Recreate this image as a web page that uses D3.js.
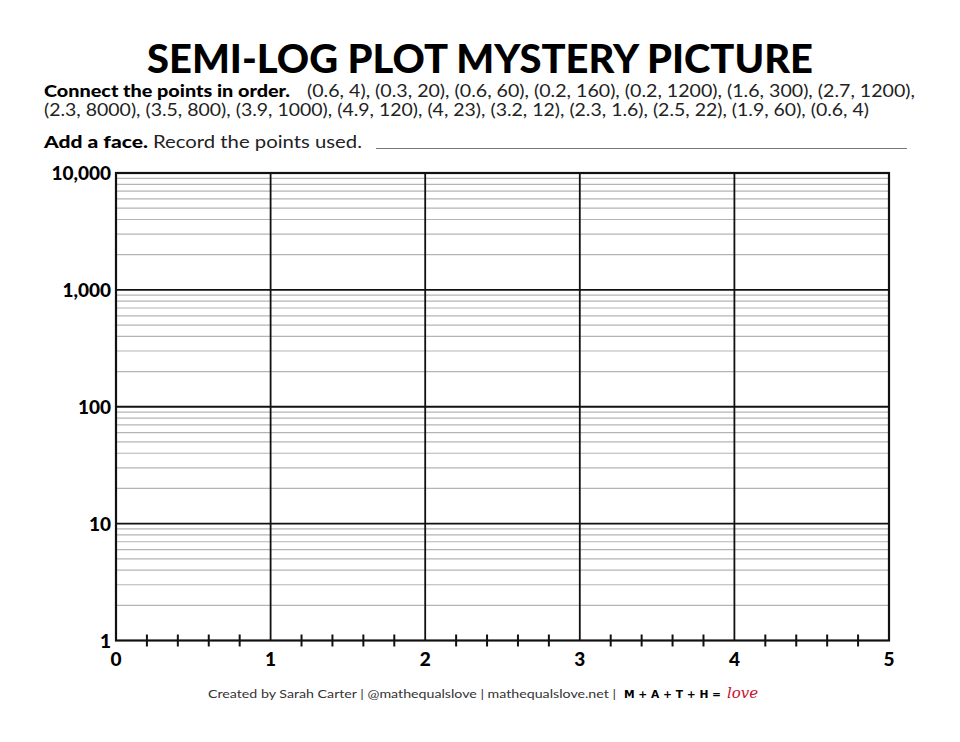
<!DOCTYPE html>
<html>
<head>
<meta charset="utf-8">
<script src="https://cdn.jsdelivr.net/npm/d3@7"></script>
<style>
  body { margin: 0; background: #fff; }
  svg { display: block; }
</style>
</head>
<body>
<div id="chart"></div>
<script>
// data
const titleText = "SEMI-LOG PLOT MYSTERY PICTURE";
const points = [[0.6, 4], [0.3, 20], [0.6, 60], [0.2, 160], [0.2, 1200], [1.6, 300], [2.7, 1200],
                [2.3, 8000], [3.5, 800], [3.9, 1000], [4.9, 120], [4, 23], [3.2, 12], [2.3, 1.6],
                [2.5, 22], [1.9, 60], [0.6, 4]];
const xTicks = [0, 1, 2, 3, 4, 5];
const yTicks = [1, 10, 100, 1000, 10000];
const footerText = "Created by Sarah Carter | @mathequalslove | mathequalslove.net |";

const width = 960, height = 742;
const font = "'Lato', 'Open Sans', 'DejaVu Sans', sans-serif";

const svg = d3.select("#chart").append("svg")
    .attr("width", width).attr("height", height)
    .attr("viewBox", `0 0 ${width} ${height}`);

const x = d3.scaleLinear().domain([0, 5]).range([116, 889]);
const y = d3.scaleLog().domain([1, 10000]).range([640.5, 173]);

// title
svg.append("text")
    .attr("x", 480).attr("y", 73)
    .attr("text-anchor", "middle")
    .attr("textLength", 666).attr("lengthAdjust", "spacingAndGlyphs")
    .style("font-family", font).style("font-weight", 900).style("font-size", "40px")
    .text(titleText);

// instructions
const fmtPt = p => `(${p[0]}, ${p[1]})`;
const line1 = points.slice(0, 7).map(fmtPt).join(", ") + ",";
const line2 = points.slice(7).map(fmtPt).join(", ");

svg.append("text").attr("x", 44).attr("y", 97)
    .attr("textLength", 246).attr("lengthAdjust", "spacingAndGlyphs")
    .style("font-family", font).style("font-weight", 900).style("font-size", "16px")
    .text("Connect the points in order.");
svg.append("text").attr("x", 307).attr("y", 97)
    .attr("textLength", 608).attr("lengthAdjust", "spacingAndGlyphs")
    .style("font-family", font).style("font-size", "17px").style("fill", "#222")
    .text(line1);
svg.append("text").attr("x", 44).attr("y", 116)
    .attr("textLength", 825).attr("lengthAdjust", "spacingAndGlyphs")
    .style("font-family", font).style("font-size", "17px").style("fill", "#222")
    .text(line2);

svg.append("text").attr("x", 44).attr("y", 148)
    .attr("textLength", 104).attr("lengthAdjust", "spacingAndGlyphs")
    .style("font-family", font).style("font-weight", 900).style("font-size", "16px")
    .text("Add a face.");
svg.append("text").attr("x", 153).attr("y", 148)
    .attr("textLength", 209).attr("lengthAdjust", "spacingAndGlyphs")
    .style("font-family", font).style("font-size", "17px").style("fill", "#222")
    .text("Record the points used.");
svg.append("line")
    .attr("x1", 376).attr("x2", 907).attr("y1", 148.5).attr("y2", 148.5)
    .style("stroke", "#777").style("stroke-width", 1.2);

// grid
const grid = svg.append("g");
const minorY = y.ticks().filter(d => !yTicks.includes(d));
grid.selectAll(".minor").data(minorY)
    .enter().append("line")
    .attr("class", "minor")
    .attr("x1", x(0)).attr("x2", x(5))
    .attr("y1", d => y(d)).attr("y2", d => y(d))
    .style("stroke", "#b4b4b4").style("stroke-width", 1.2);

grid.selectAll(".major").data(yTicks.slice(1, -1))
    .enter().append("line")
    .attr("class", "major")
    .attr("x1", x(0)).attr("x2", x(5))
    .attr("y1", d => y(d)).attr("y2", d => y(d))
    .style("stroke", "#111").style("stroke-width", 1.8);

grid.selectAll(".vert").data(xTicks.slice(1, -1))
    .enter().append("line")
    .attr("class", "vert")
    .attr("x1", d => x(d)).attr("x2", d => x(d))
    .attr("y1", y(10000)).attr("y2", y(1))
    .style("stroke", "#111").style("stroke-width", 1.8);

// x minor ticks crossing the bottom axis
const minorX = x.ticks(25).filter(d => Math.abs(d - Math.round(d)) > 1e-9);
grid.selectAll(".xtick").data(minorX)
    .enter().append("line")
    .attr("class", "xtick")
    .attr("x1", d => x(d)).attr("x2", d => x(d))
    .attr("y1", y(1) - 6).attr("y2", y(1) + 6)
    .style("stroke", "#111").style("stroke-width", 2);

// frame
svg.append("rect")
    .attr("x", x(0)).attr("y", y(10000))
    .attr("width", x(5) - x(0)).attr("height", y(1) - y(10000))
    .style("fill", "none").style("stroke", "#111").style("stroke-width", 2.2);

// labels
svg.selectAll(".ylab").data(yTicks)
    .enter().append("text")
    .attr("class", "ylab")
    .attr("x", 111).attr("y", d => y(d) + 7)
    .attr("text-anchor", "end")
    .style("font-family", font).style("font-weight", 900).style("font-size", "19px")
    .text(d3.format(","));

svg.selectAll(".xlab").data(xTicks)
    .enter().append("text")
    .attr("class", "xlab")
    .attr("x", d => x(d)).attr("y", 666)
    .attr("text-anchor", "middle")
    .style("font-family", font).style("font-weight", 900).style("font-size", "19px")
    .text(d => d);

// footer
svg.append("text").attr("x", 208).attr("y", 698)
    .attr("textLength", 408).attr("lengthAdjust", "spacingAndGlyphs")
    .style("font-family", font).style("font-size", "12px").style("fill", "#333")
    .text(footerText);
svg.append("text").attr("x", 624).attr("y", 698)
    .attr("textLength", 97).attr("lengthAdjust", "spacingAndGlyphs")
    .style("font-family", "'DejaVu Sans', sans-serif").style("font-weight", 700).style("font-size", "11px")
    .text("M + A + T + H =");
svg.append("text").attr("x", 727).attr("y", 698)
    .style("font-family", "'DejaVu Serif', serif").style("font-style", "italic")
    .style("font-size", "15px").style("fill", "#c8102e")
    .text("love");
</script>
</body>
</html>
